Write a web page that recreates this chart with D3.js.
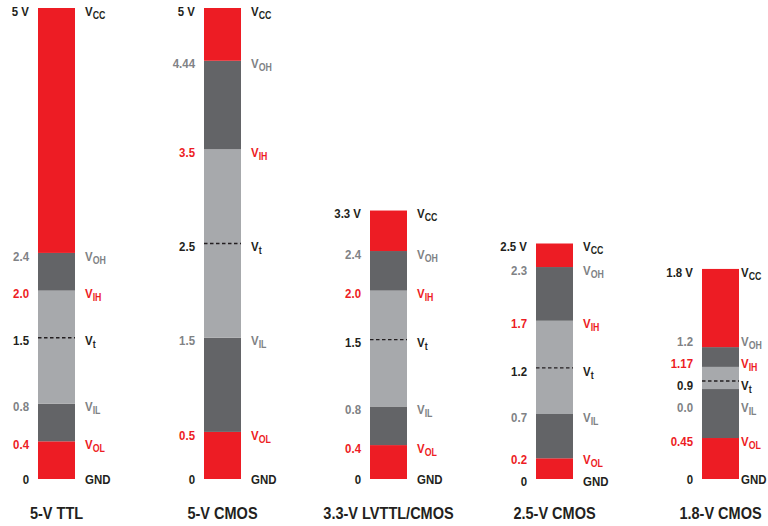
<!DOCTYPE html>
<html>
<head>
<meta charset="utf-8">
<script src="https://cdn.jsdelivr.net/npm/d3@7"></script>
<style>
  html, body { margin: 0; padding: 0; background: #fff; }
  svg { display: block; }
  text { font-family: "Liberation Sans", Arial, sans-serif; font-weight: bold; }
</style>
</head>
<body>
<svg id="chart" width="768" height="526"></svg>
<script>
// ---- data ----
const categories = ["5-V TTL", "5-V CMOS", "3.3-V LVTTL/CMOS", "2.5-V CMOS", "1.8-V CMOS"];
// boundary levels (volts, as drawn in the picture)
const vccLevel = [5.0, 5.0, 2.85, 2.5, 2.23];
const vohLevel = [2.4, 4.44, 2.42, 2.25, 1.40];
const vihLevel = [2.0, 3.5, 2.0, 1.68, 1.19];
const vtLevel  = [1.5, 2.5, 1.48, 1.18, 1.04];
const vilLevel = [0.8, 1.5, 0.77, 0.69, 0.955];
const volLevel = [0.4, 0.5, 0.36, 0.22, 0.435];
const gndLevel = [0, 0, 0, 0, 0];
// printed values
const vccText = ["5 V", "5 V", "3.3 V", "2.5 V", "1.8 V"];
const vohText = ["2.4", "4.44", "2.4", "2.3", "1.2"];
const vihText = ["2.0", "3.5", "2.0", "1.7", "1.17"];
const vtText  = ["1.5", "2.5", "1.5", "1.2", "0.9"];
const vilText = ["0.8", "1.5", "0.8", "0.7", "0.0"];
const volText = ["0.4", "0.5", "0.4", "0.2", "0.45"];
const gndText = ["0", "0", "0", "0", "0"];
// level names
const levelNames = [
  { key: "VCC", main: "V", sub: "CC", tone: "black" },
  { key: "VOH", main: "V", sub: "OH", tone: "gray" },
  { key: "VIH", main: "V", sub: "IH", tone: "red" },
  { key: "Vt",  main: "V", sub: "t",  tone: "black" },
  { key: "VIL", main: "V", sub: "IL", tone: "gray" },
  { key: "VOL", main: "V", sub: "OL", tone: "red" },
  { key: "GND", main: "GND", sub: "", tone: "black" }
];

// ---- styles ----
const RED = "#ED1C24", DARK = "#636467", LIGHT = "#A7A9AC";
const toneColor = { black: "#231F20", gray: "#808285", red: "#ED1C24" };
const SQ = 0.88; // horizontal condensing of the bold face

const svg = d3.select("#chart");
const W = 768;
const y = d3.scaleLinear().domain([0, 5]).range([479, 8]);
const x = d3.scalePoint().domain(categories).range([56.5, 720.5]);
const barW = 37;

function dodge(items, gap) {
  const sorted = items.slice().sort((a, b) => a.y - b.y);
  let clusters = sorted.map(it => ({ items: [it], sum: it.y }));
  function place(c) {
    const n = c.items.length;
    const start = c.sum / n - gap * (n - 1) / 2;
    c.items.forEach((it, i) => it.py = start + i * gap);
  }
  clusters.forEach(place);
  let changed = true;
  while (changed) {
    changed = false;
    for (let i = 0; i < clusters.length - 1; i++) {
      const a = clusters[i], b = clusters[i + 1];
      if (b.items[0].py - a.items[a.items.length - 1].py < gap) {
        const m = { items: a.items.concat(b.items), sum: a.sum + b.sum };
        place(m);
        clusters.splice(i, 2, m);
        changed = true;
        break;
      }
    }
  }
  return items;
}

function label(parent, px, py, anchor, size, color) {
  return parent.append("text")
    .attr("transform", `translate(${px},${py}) scale(${SQ},1)`)
    .attr("dy", "0.36em")
    .attr("text-anchor", anchor)
    .attr("font-size", size)
    .attr("fill", color);
}

categories.forEach((cat, i) => {
  const levels = [vccLevel[i], vohLevel[i], vihLevel[i], vtLevel[i], vilLevel[i], volLevel[i], gndLevel[i]];
  const texts = [vccText[i], vohText[i], vihText[i], vtText[i], vilText[i], volText[i], gndText[i]];
  const cx = x(cat);
  const x0 = cx - barW / 2, x1 = cx + barW / 2;
  const g = svg.append("g");

  const segments = [
    { lo: gndLevel[i], hi: volLevel[i], fill: RED },
    { lo: volLevel[i], hi: vilLevel[i], fill: DARK },
    { lo: vilLevel[i], hi: vihLevel[i], fill: LIGHT },
    { lo: vihLevel[i], hi: vohLevel[i], fill: DARK },
    { lo: vohLevel[i], hi: vccLevel[i], fill: RED }
  ];
  g.selectAll("rect").data(segments).join("rect")
    .attr("x", x0).attr("width", barW)
    .attr("y", d => y(d.hi))
    .attr("height", d => y(d.lo) - y(d.hi))
    .attr("fill", d => d.fill);

  g.append("line")
    .attr("x1", x0).attr("x2", x1)
    .attr("y1", y(vtLevel[i])).attr("y2", y(vtLevel[i]))
    .attr("stroke", "#231F20").attr("stroke-width", 1.4)
    .attr("stroke-dasharray", "3.5,2.5");

  const items = levels.map((lv, k) => ({
    y: k === 6 ? y(lv) : y(lv) + 3,
    name: levelNames[k], text: texts[k]
  }));
  dodge(items, 22);

  const right = g.append("g");
  items.forEach(it => {
    const col = toneColor[it.name.tone];
    label(g, x0 - 9, it.py, "end", 13, col).text(it.text);
    const t = label(right, 0, it.py, "start", 13, col);
    t.append("tspan").text(it.name.main);
    if (it.name.sub) {
      t.append("tspan").attr("font-size", 10).attr("dy", 3).text(it.name.sub);
    }
  });
  // place right-side names beside the bar, keeping them inside the frame
  const bw = right.node().getBBox().width;
  const rx = Math.max(x1 + 2, Math.min(x1 + 10, W - 2 - bw));
  right.attr("transform", `translate(${rx},0)`);

  label(g, cx, 513, "middle", 16.5, "#231F20").text(cat);
});
</script>
</body>
</html>
